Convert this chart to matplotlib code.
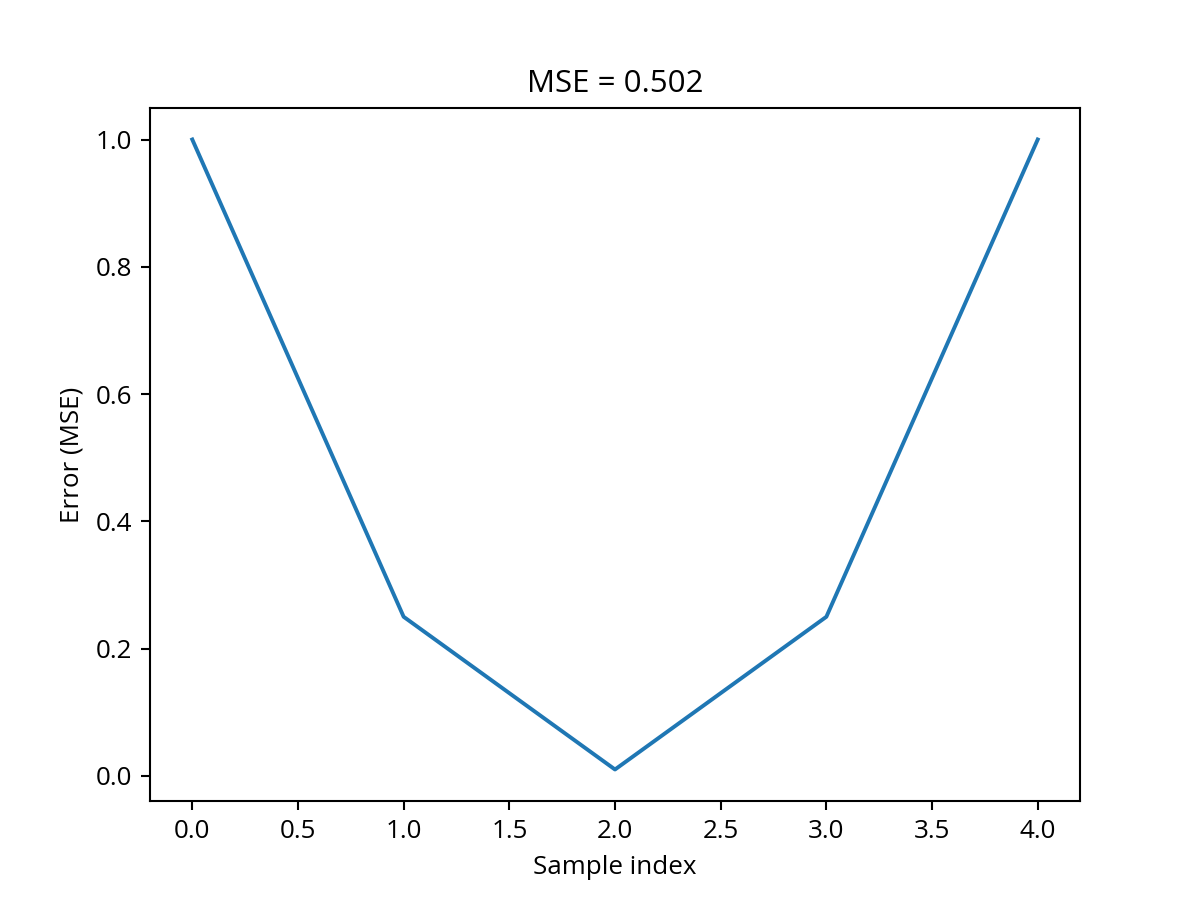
import matplotlib
matplotlib.use("Agg")
import matplotlib.pyplot as plt

plt.rcParams['font.family'] = ['Open Sans', 'DejaVu Sans']

sample_index = [0, 1, 2, 3, 4]
errors = [1.0, 0.25, 0.01, 0.25, 1.0]
mse = sum(errors) / len(errors)

fig, ax = plt.subplots(figsize=(6.4, 4.8), dpi=187.5)
ax.plot(sample_index, errors, color='#1f77b4')
ax.set_title(f"MSE = {mse:.3f}")
ax.set_xlabel("Sample index")
ax.set_ylabel("Error (MSE)")
fig.savefig("out.png")
